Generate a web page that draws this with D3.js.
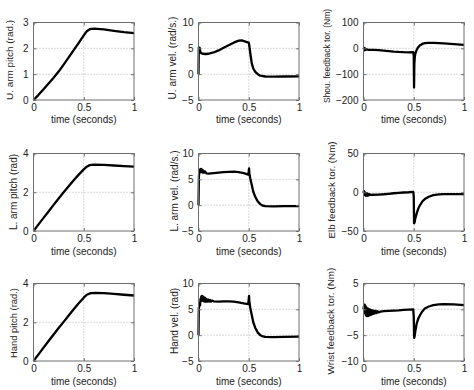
<!DOCTYPE html>
<html>
<head>
<meta charset="utf-8">
<script src="https://cdn.jsdelivr.net/npm/d3@7"></script>
<style>
  body { margin: 0; background: #fff; }
  svg { display: block; font-family: Arial, "Liberation Sans", Helvetica, sans-serif; }
  .frame { fill: none; stroke: #6e6e6e; stroke-width: 1; }
  .grid line { stroke: #b4b4b4; stroke-width: 1; stroke-dasharray: 1,2; }
  .axis path { display: none; }
  .axis line { stroke: #6e6e6e; }
  .axis text { fill: #222; font-size: 10px; }
  .curve { fill: none; stroke: #000; stroke-width: 2.3; stroke-linejoin: round; }
  .label { fill: #222; font-size: 10px; }
</style>
</head>
<body>
<div id="chart"></div>
<script>
// time ticks shared by every panel
var timeTicks = [0, 0.5, 1];
var timeTickLabels = ["0", "0.5", "1"];

// y ticks per panel
var pitchTicksU = [0, 1, 2, 3];
var pitchTicks = [0, 2, 4];
var velTicks = [-5, 0, 5, 10];
var shouTicks = [-200, -100, 0, 100];
var elbTicks = [-50, 0, 50];
var wristTicks = [-10, -5, 0, 5];

var yLabels = [
  "U. arm pitch (rad.)", "U. arm  vel. (rad/s.)", "Shou. feedback tor. (Nm)",
  "L. arm pitch (rad)", "L. arm vel. (rad/s.)", "Elb feedback tor. (Nm)",
  "Hand pitch (rad.)", "Hand vel. (rad)", "Wrist feedback tor. (Nm)"
];

// series, [time, value]
var uArmPitch = [[0,0],[0.05,0.2],[0.1,0.42],[0.15,0.64],[0.2,0.86],[0.25,1.1],[0.3,1.37],[0.35,1.65],[0.4,1.93],[0.45,2.21],[0.5,2.5],[0.53,2.66],[0.56,2.74],[0.6,2.76],[0.7,2.73],[0.8,2.68],[0.9,2.63],[1,2.59]];

var uArmVel = [[0,0],[0.003,5.2],[0.008,4.8],[0.012,5.1],[0.018,4.3],[0.025,4.1],[0.04,3.95],[0.07,3.9],[0.1,3.95],[0.15,4.2],[0.2,4.6],[0.25,5.1],[0.3,5.6],[0.35,6.1],[0.4,6.5],[0.43,6.55],[0.46,6.35],[0.49,6.15],[0.5,6.1],[0.505,5.6],[0.515,4.1],[0.53,2.1],[0.545,1.1],[0.565,0.45],[0.59,0],[0.615,-0.3],[0.665,-0.45],[0.75,-0.48],[0.85,-0.45],[1,-0.42]];

var shouTor = [[0,-3],[0.005,2],[0.01,-8],[0.015,0],[0.02,-6],[0.03,-4],[0.05,-6],[0.1,-6],[0.15,-7],[0.2,-8.5],[0.25,-10.5],[0.3,-12.5],[0.35,-14],[0.4,-15],[0.45,-15.5],[0.495,-15],[0.5,-30],[0.503,-152],[0.506,-60],[0.51,-35],[0.515,-22],[0.525,-10],[0.54,2],[0.56,11],[0.585,17],[0.61,20],[0.65,21],[0.7,21],[0.8,19.5],[0.9,16.5],[1,13]];

var lArmPitch = [[0,0],[0.05,0.34],[0.1,0.68],[0.15,1.01],[0.2,1.35],[0.25,1.68],[0.3,2.0],[0.35,2.31],[0.4,2.62],[0.45,2.91],[0.5,3.18],[0.53,3.32],[0.56,3.4],[0.6,3.43],[0.7,3.41],[0.8,3.38],[0.9,3.35],[1,3.32]];

var lArmVel = [[0,0],[0.004,5.5],[0.008,6.6],[0.012,6.3],[0.016,6.9],[0.021,6.4],[0.026,7.0],[0.031,6.4],[0.036,6.9],[0.042,6.3],[0.048,6.7],[0.055,6.3],[0.065,6.5],[0.08,6.15],[0.1,6.1],[0.15,6.2],[0.2,6.3],[0.25,6.4],[0.3,6.45],[0.35,6.5],[0.4,6.4],[0.45,6.2],[0.495,5.9],[0.5,6.6],[0.503,7.1],[0.506,6.2],[0.515,5.2],[0.53,3.9],[0.545,2.6],[0.565,1.6],[0.59,0.7],[0.615,0.2],[0.64,-0.1],[0.665,-0.2],[0.75,-0.22],[0.85,-0.2],[1,-0.2]];

var elbTor = [[0,-1],[0.004,1.5],[0.008,-3],[0.012,0],[0.016,-4],[0.021,-1],[0.026,-4.5],[0.032,-1.5],[0.038,-4.5],[0.045,-2],[0.052,-4],[0.06,-2.5],[0.07,-3.5],[0.1,-3.2],[0.15,-3],[0.2,-2.6],[0.25,-2],[0.3,-1.3],[0.35,-0.8],[0.4,-0.3],[0.45,0],[0.495,0.5],[0.5,-5],[0.503,-40],[0.508,-39],[0.515,-34],[0.53,-27],[0.545,-21],[0.563,-16.5],[0.585,-12],[0.61,-8.8],[0.65,-5.8],[0.695,-3.8],[0.75,-2.8],[0.8,-2.4],[0.9,-2.3],[1,-2.3]];

var handPitch = [[0,0],[0.05,0.34],[0.1,0.69],[0.15,1.03],[0.2,1.37],[0.25,1.7],[0.3,2.02],[0.35,2.35],[0.4,2.67],[0.45,2.98],[0.5,3.27],[0.53,3.42],[0.57,3.5],[0.62,3.52],[0.7,3.5],[0.8,3.46],[0.9,3.42],[1,3.38]];

var handVel = [[0,0],[0.003,5.3],[0.008,5.6],[0.012,6.2],[0.016,5.8],[0.02,7.0],[0.024,6.6],[0.028,7.5],[0.032,6.8],[0.036,7.6],[0.04,6.7],[0.044,7.5],[0.049,6.6],[0.054,7.3],[0.06,6.5],[0.066,7.2],[0.073,6.5],[0.08,7.0],[0.088,6.5],[0.096,6.9],[0.105,6.5],[0.115,6.8],[0.125,6.5],[0.135,6.7],[0.15,6.55],[0.2,6.5],[0.25,6.55],[0.3,6.55],[0.35,6.5],[0.4,6.35],[0.45,6.15],[0.495,6.0],[0.5,7.0],[0.503,7.6],[0.506,6.5],[0.515,5.3],[0.53,3.9],[0.545,2.5],[0.565,1.4],[0.59,0.5],[0.615,0],[0.64,-0.25],[0.665,-0.35],[0.75,-0.38],[0.85,-0.35],[1,-0.3]];

var wristTor = [[0,0],[0.004,0.6],[0.008,-0.2],[0.012,0.9],[0.016,-0.8],[0.02,0.6],[0.024,-1.2],[0.028,0.4],[0.033,-1.3],[0.038,0.2],[0.043,-1.3],[0.048,0.1],[0.054,-1.2],[0.06,0],[0.066,-1.1],[0.072,-0.1],[0.079,-1.0],[0.086,-0.2],[0.094,-0.9],[0.102,-0.25],[0.11,-0.8],[0.12,-0.3],[0.13,-0.7],[0.14,-0.35],[0.15,-0.6],[0.17,-0.45],[0.2,-0.35],[0.25,-0.3],[0.3,-0.25],[0.35,-0.2],[0.4,-0.12],[0.45,-0.06],[0.495,0],[0.5,-1.5],[0.504,-5.5],[0.508,-5.3],[0.515,-4.3],[0.53,-2.7],[0.545,-1.8],[0.563,-1.1],[0.585,-0.4],[0.61,0.15],[0.65,0.55],[0.695,0.8],[0.75,0.95],[0.8,1.0],[0.9,0.95],[1,0.8]];

var W = 474, H = 390;
var colLeft = [33.5, 198.5, 363.5];
var rowTop = [22.5, 153.5, 283.5];
var plotW = 100.5, plotH = 77.5;

// one entry per subplot: data, y ticks, label placement
var panels = [
  { data: uArmPitch, ticks: pitchTicksU, lx: 9,   ly: 60,  len: 80 },
  { data: uArmVel,   ticks: velTicks,    lx: 172, ly: 58,  len: 84 },
  { data: shouTor,   ticks: shouTicks,   lx: 326, ly: 56,  len: 94 },
  { data: lArmPitch, ticks: pitchTicks,  lx: 13,  ly: 192, len: 77 },
  { data: lArmVel,   ticks: velTicks,    lx: 174, ly: 191, len: 82 },
  { data: elbTor,    ticks: elbTicks,    lx: 331, ly: 190, len: 97 },
  { data: handPitch, ticks: pitchTicks,  lx: 13,  ly: 323, len: 70 },
  { data: handVel,   ticks: velTicks,    lx: 174, ly: 321, len: 68 },
  { data: wristTor,  ticks: wristTicks,  lx: 330, ly: 321, len: 107 }
];

var svg = d3.select("#chart").append("svg")
  .attr("width", W)
  .attr("height", H);

panels.forEach(function (p, i) {
  var col = i % 3, row = Math.floor(i / 3);
  var x0 = colLeft[col], y0 = rowTop[row];

  var x = d3.scaleLinear().domain([0, 1]).range([0, plotW]);
  var y = d3.scaleLinear()
    .domain([p.ticks[0], p.ticks[p.ticks.length - 1]])
    .range([plotH, 0]);

  var g = svg.append("g").attr("transform", "translate(" + x0 + "," + y0 + ")");

  g.append("rect").attr("width", plotW).attr("height", plotH).attr("fill", "#fff");

  // dotted grid (MATLAB style)
  var grid = g.append("g").attr("class", "grid");
  grid.selectAll("line.gx")
    .data(timeTicks.slice(1, -1))
    .enter().append("line")
    .attr("x1", (d) => x(d)).attr("x2", (d) => x(d))
    .attr("y1", 0).attr("y2", plotH);
  grid.selectAll("line.gy")
    .data(p.ticks.slice(1, -1))
    .enter().append("line")
    .attr("class", "gy")
    .attr("x1", 0).attr("x2", plotW)
    .attr("y1", (d) => y(d)).attr("y2", (d) => y(d));

  // curve
  var line = d3.line().x((d) => x(d[0])).y((d) => y(d[1]));
  g.append("path").datum(p.data).attr("class", "curve").attr("d", line);

  // axes, ticks pointing inwards, box on all sides
  g.append("g").attr("class", "axis")
    .attr("transform", "translate(0," + plotH + ")")
    .call(d3.axisBottom(x).tickValues(timeTicks)
      .tickFormat((d, k) => timeTickLabels[k])
      .tickSizeInner(-3).tickPadding(3.5));
  g.append("g").attr("class", "axis")
    .call(d3.axisTop(x).tickValues(timeTicks).tickFormat("").tickSizeInner(-3));
  g.append("g").attr("class", "axis")
    .call(d3.axisLeft(y).tickValues(p.ticks).tickFormat(d3.format("d"))
      .tickSizeInner(-3).tickPadding(5));
  g.append("g").attr("class", "axis")
    .attr("transform", "translate(" + plotW + ",0)")
    .call(d3.axisRight(y).tickValues(p.ticks).tickFormat("").tickSizeInner(-3));

  g.selectAll(".axis text").text(function () {
    return this.textContent.replace("-", "\u2212");
  });

  g.append("rect").attr("class", "frame").attr("width", plotW).attr("height", plotH);

  // labels
  g.append("text").attr("class", "label")
    .attr("x", plotW / 2)
    .attr("y", plotH + (row === 0 ? 23 : 24))
    .attr("text-anchor", "middle")
    .text("time (seconds)");

  var yl = svg.append("text").attr("class", "label")
    .attr("transform", "translate(" + (p.lx + 3.5) + "," + p.ly + ") rotate(-90)")
    .attr("text-anchor", "middle")
    .text(yLabels[i]);
  // size the font so the label spans the same length as in the picture
  var w = yl.node().getComputedTextLength();
  if (w > p.len) yl.style("font-size", (10 * p.len / w).toFixed(2) + "px");
});
</script>
</body>
</html>
